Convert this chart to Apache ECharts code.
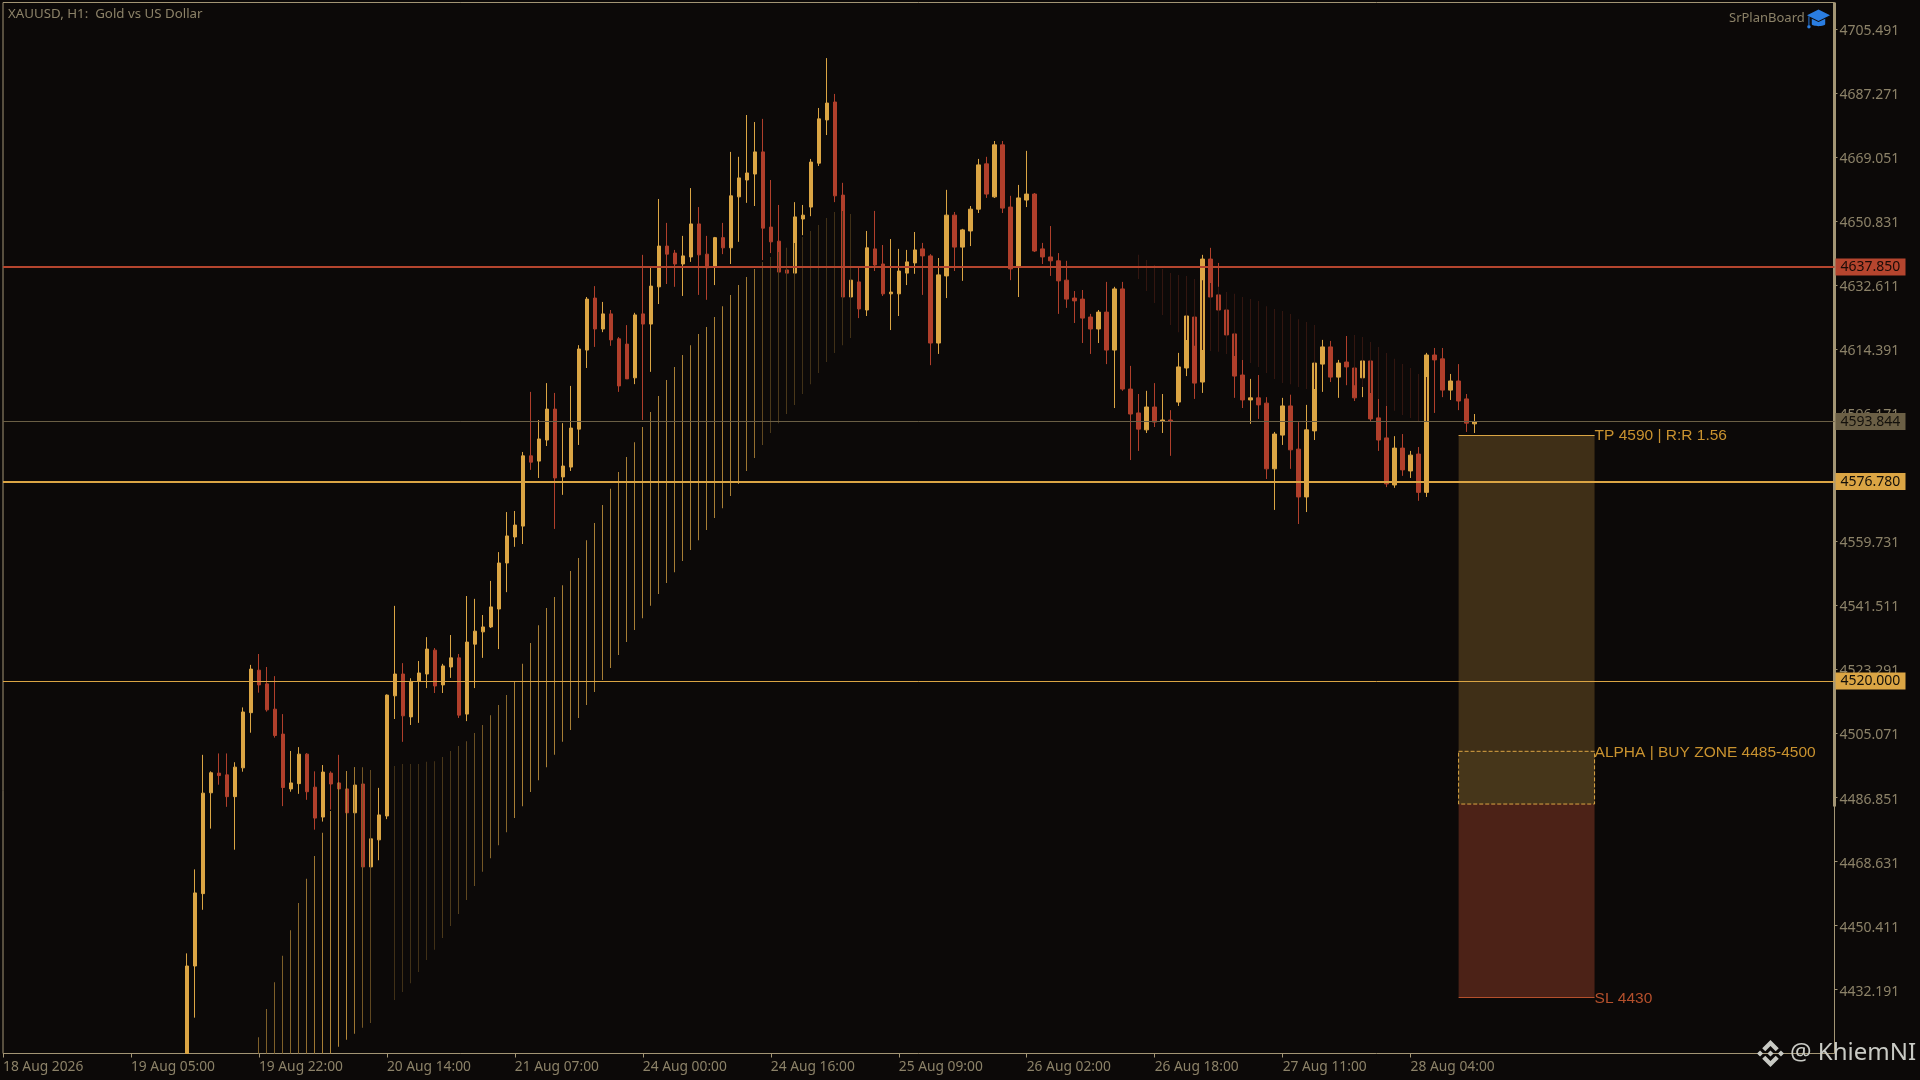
<!DOCTYPE html>
<html><head><meta charset="utf-8"><style>html,body{margin:0;padding:0;background:#0c0908}#c{width:1920px;height:1080px}</style>
<script src="https://cdn.jsdelivr.net/npm/echarts@6/dist/echarts.min.js"></script></head><body><div id="c"></div><script>
const xLabels=['18 Aug 2026','19 Aug 05:00','19 Aug 22:00','20 Aug 14:00','21 Aug 07:00','24 Aug 00:00','24 Aug 16:00','25 Aug 09:00','26 Aug 02:00','26 Aug 18:00','27 Aug 11:00','28 Aug 04:00'];
const yTicks=[4705.491,4687.271,4669.051,4650.831,4632.611,4614.391,4596.171,4577.951,4559.731,4541.511,4523.291,4505.071,4486.851,4468.631,4450.411,4432.191];
const firstCandle=23;
const opens=[4414,4438.9,4459.5,4488.2,4493.8,4493.3,4487.1,4495.3,4511.0,4523.1,4519.2,4512.0,4504.9,4489.3,4490.8,4499.2,4489.8,4481.3,4493.8,4491.0,4489.3,4482.5,4490.7,4467.1,4474.8,4481.6,4515.8,4522.0,4509.8,4520.0,4522.0,4528.8,4518.9,4524.0,4526.6,4510.6,4530.5,4534.0,4535.4,4540.5,4553.6,4561.0,4564.1,4584.1,4582.6,4588.6,4597.4,4578.1,4580.9,4591.7,4614.2,4629.0,4620.2,4624.5,4617.4,4615.9,4606.3,4624.5,4621.6,4632.2,4643.8,4641.8,4638.7,4640.7,4650.1,4641.5,4637.8,4646.2,4643.3,4657.8,4662.6,4664.3,4670.6,4649.2,4645.2,4637.0,4636.1,4651.5,4654.9,4667.4,4679.7,4684.8,4658.3,4629.3,4633.6,4625.6,4643.0,4638.7,4630.2,4630.2,4636.1,4639.0,4643.0,4641.0,4616.2,4635.3,4652.6,4643.5,4648.1,4654.3,4667.2,4657.8,4672.6,4654.9,4637.8,4656.9,4658.6,4643.0,4640.7,4639.6,4634.1,4629.0,4628.7,4623.6,4620.2,4625.0,4614.2,4631.6,4603.1,4596.3,4591.5,4598.0,4594.0,4594.3,4599.4,4609.1,4623.6,4605.1,4640.1,4629.9,4625.6,4618.8,4607.1,4600.0,4600.6,4599.1,4580.4,4590.0,4598.3,4586.0,4572.4,4591.2,4610.2,4615.1,4606.5,4610.8,4609.1,4606.3,4611.1,4594.9,4589.2,4575.8,4586.3,4579.8,4584.6,4573.7,4612.8,4611.7,4602.8,4605.4,4600.3,4593.2];
const closes=[4438.9,4459.7,4488.1,4493.9,4493.1,4487.1,4495.5,4511.2,4523.4,4518.9,4511.8,4504.5,4489.7,4491.0,4499.2,4488.5,4481.0,4494.1,4490.7,4489.3,4482.5,4490.4,4467.1,4475.1,4481.9,4516.0,4522.0,4510.1,4519.9,4522.3,4529.1,4518.6,4524.3,4526.6,4510.3,4531.1,4534.2,4535.4,4541.1,4553.6,4561.3,4564.4,4584.1,4582.3,4588.9,4597.4,4577.8,4581.2,4592.0,4614.5,4628.7,4620.2,4624.5,4617.1,4604.0,4606.0,4624.2,4621.6,4632.4,4643.8,4641.5,4638.7,4641.0,4650.1,4641.3,4637.6,4646.2,4643.3,4658.1,4663.2,4664.6,4670.6,4648.9,4645.0,4636.4,4636.1,4652.1,4652.6,4667.7,4680.0,4684.5,4658.1,4629.3,4634.1,4625.9,4643.3,4638.4,4630.2,4630.7,4636.7,4639.3,4642.7,4641.0,4616.2,4635.6,4652.6,4643.5,4648.4,4654.3,4666.9,4658.6,4672.6,4654.6,4637.3,4657.5,4658.6,4642.4,4640.7,4639.6,4633.9,4628.7,4628.2,4623.3,4620.2,4625.0,4614.2,4631.6,4603.1,4596.0,4591.7,4598.0,4593.7,4594.3,4594.0,4609.4,4623.9,4604.8,4640.1,4629.3,4625.6,4618.5,4606.8,4600.0,4600.6,4598.6,4580.4,4590.3,4598.3,4585.8,4572.4,4591.5,4610.5,4615.1,4606.5,4610.5,4609.4,4600.6,4611.1,4594.6,4588.6,4576.1,4586.3,4580.1,4584.3,4573.7,4612.8,4611.4,4602.8,4605.4,4599.7,4593.4,4593.8];
const lows=[4414,4424.2,4454.9,4478.0,4490.5,4484.2,4472.0,4494.2,4505.3,4516.7,4511.3,4503.9,4484.4,4488.5,4487.9,4486.2,4477.7,4480.0,4483.4,4489.0,4481.9,4481.9,4467.1,4467.1,4469.0,4480.7,4509.2,4502.7,4507.5,4508.1,4518.0,4516.6,4516.6,4520.9,4509.5,4508.6,4518.0,4526.6,4535.1,4529.1,4545.3,4558.2,4559.0,4580.1,4577.8,4586.9,4563.3,4573.0,4579.8,4587.2,4609.1,4615.1,4619.3,4615.4,4602.3,4606.0,4604.5,4594.3,4608.0,4627.3,4633.0,4632.2,4629.6,4639.3,4629.9,4628.5,4632.7,4641.5,4638.7,4645.0,4656.1,4655.2,4639.8,4641.8,4636.4,4636.1,4636.1,4646.9,4652.3,4666.6,4675.4,4656.3,4629.3,4629.3,4623.3,4623.9,4636.7,4629.6,4619.9,4623.9,4632.7,4635.9,4629.9,4609.9,4613.1,4629.0,4636.7,4633.9,4643.8,4653.2,4657.5,4657.5,4653.2,4634.1,4629.3,4654.9,4642.1,4638.7,4635.3,4624.5,4626.2,4621.9,4616.2,4613.1,4616.2,4610.2,4597.7,4602.6,4582.9,4585.5,4590.6,4592.3,4590.6,4584.1,4598.3,4606.8,4600.3,4602.0,4629.0,4625.3,4618.5,4600.6,4597.7,4593.2,4594.6,4577.5,4568.7,4587.2,4580.4,4564.7,4568.1,4588.6,4602.3,4605.1,4600.6,4604.2,4599.7,4600.8,4594.0,4585.5,4575.2,4575.0,4578.4,4577.8,4571.3,4572.4,4596.3,4600.8,4600.0,4597.1,4590.9,4590.6];
const highs=[4442.5,4466.4,4499.0,4494.3,4499.4,4499.4,4496.9,4512.5,4524.6,4527.7,4524.0,4521.4,4510.6,4500.1,4501.2,4499.5,4494.3,4496.1,4494.3,4499.0,4494.3,4495.4,4490.7,4475.1,4489.6,4516.2,4541.4,4525.1,4520.8,4525.7,4532.5,4529.4,4524.9,4533.1,4527.7,4544.2,4543.4,4538.8,4548.5,4556.7,4568.1,4568.4,4585.2,4602.3,4594.3,4604.8,4602.0,4593.4,4604.0,4615.6,4629.3,4632.4,4627.9,4625.6,4617.9,4621.3,4624.8,4641.3,4637.6,4657.2,4650.4,4642.7,4646.7,4660.3,4654.9,4646.7,4646.4,4650.4,4670.6,4669.2,4681.1,4679.1,4680.0,4662.6,4655.5,4637.0,4656.3,4655.5,4668.6,4683.1,4697.3,4687.1,4661.8,4634.1,4637.8,4648.1,4653.8,4644.1,4645.8,4643.0,4642.7,4647.8,4644.7,4641.5,4640.4,4659.8,4653.5,4648.7,4655.2,4668.6,4669.2,4673.7,4673.7,4658.1,4661.2,4670.9,4658.9,4644.7,4649.5,4641.8,4639.6,4631.0,4631.3,4624.5,4625.6,4633.6,4632.2,4633.6,4609.7,4601.7,4602.6,4604.8,4601.7,4597.1,4613.4,4623.9,4623.6,4641.3,4643.3,4639.0,4625.6,4618.8,4611.4,4606.0,4607.1,4600.8,4590.9,4600.6,4601.5,4593.7,4598.6,4610.5,4617.1,4616.8,4611.4,4618.2,4609.1,4611.1,4611.1,4600.3,4598.3,4589.7,4590.3,4585.5,4586.6,4613.4,4614.8,4614.8,4607.4,4610.2,4601.7,4596.0];
const firstGoldGhost=32;
const goldGhostTop=[4418.6,4426.7,4434.3,4441.8,4449.1,4456.8,4463.7,4470.2,4476.8,4483.0,4491.3,4494.4,4495.5,4495.5,4494.7,null,null,4495.8,4496.4,4496.4,4496.4,4497.0,4497.2,4498.4,4500.1,4501.5,4502.9,4505.2,4507.5,4510.3,4513.2,4516.0,4520.0,4524.9,4530.8,4535.9,4540.8,4543.9,4547.3,4551.3,4555.0,4560.1,4565.0,4570.1,4574.7,4579.5,4583.8,4588.0,4592.3,4596.6,4601.1,4605.7,4609.4,4612.8,4615.6,4618.8,4620.8,4623.6,4626.7,4629.9,4632.7,4635.0,4637.3,4639.3,4640.7,4642.1,4643.3,4644.7,4646.4,4648.1,4649.8,4651.8,4653.5,4653.8,4652.9];
const goldGhostBottom=[4400,4400,4400,4400,4400,4400,4400,4400,4400,4400,4415.9,4417.9,4419.6,4421.3,4422.7,null,null,4429.2,4431.5,4434.0,4437.2,4440.6,4443.5,4446.9,4450.3,4453.7,4457.7,4461.7,4465.7,4469.6,4473.3,4477.0,4481.0,4484.4,4488.4,4491.8,4495.5,4499.0,4502.7,4506.1,4509.5,4513.2,4516.9,4520.3,4523.7,4527.4,4531.1,4534.5,4537.9,4541.4,4544.8,4547.9,4551.0,4554.2,4557.3,4560.1,4563.0,4566.4,4569.2,4572.7,4576.1,4579.8,4583.5,4587.2,4590.6,4593.4,4596.0,4598.6,4601.7,4604.5,4607.7,4610.8,4613.4,4615.6,4617.6];
const goldGhostShade=[.55,.55,.55,.55,.6,.6,.65,.7,.75,.8,.8,.8,.7,.5,.4,0,0,.25,.25,.25,.25,.25,.25,.3,.3,.35,.4,.45,.5,.6,.6,.6,.75,.75,.75,.75,.75,.75,.75,.75,.75,.75,.75,.75,.75,.75,.75,.75,.75,.75,.75,.75,.75,.75,.75,.75,.75,.75,.75,.75,.75,.7,.65,.4,.3,.3,.3,.3,.25,.25,.25,.25,.25,.25,.25];
const firstRedGhost=142;
const redGhostTop=[4641.3,4639.8,4638.4,4637.3,4636.1,4635.6,4635.3,4634.4,4634.1,4633.3,4632.2,4630.7,4630.2,4629.3,4628.7,4628.2,4626.7,4625.9,4625.3,4624.5,4623.0,4622.2,4621.3,null,null,null,null,4618.5,4617.9,4616.5,4615.1,4613.4,4611.7,4610.2,4609.1,4607.4,4606.5];
const redGhostBottom=[4634.4,4631.0,4627.6,4624.2,4621.3,4619.3,4617.1,4615.4,4614.2,4613.9,4613.7,4613.1,4612.5,4611.4,4610.5,4609.4,4607.7,4606.0,4604.8,4604.5,4603.7,4603.1,4603.1,null,null,null,null,4604.2,4603.7,4602.0,4600.3,4598.3,4596.9,4595.7,4594.9,4593.7,4594.0];
const levels=[{v:4637.85,c:'#b5452e',w:2,text:'#1a0b07'},{v:4593.844,c:'#6b5f45',w:1,text:'#14110c'},{v:4576.78,c:'#dba544',w:2,text:'#14100a'},{v:4520,c:'#dba544',w:1,text:'#14100a'}];
const GOLD='#dba544',RED='#b03f2b',BG='#0c0908',TAN='#8c8268',AXIS='#a39574';
const tradeStart=182,tradeEnd=199,tp=4590,zoneTop=4500,zoneBottom=4485,sl=4430;
const axisBoldFrom=4484.3,axisBoldTo=4713.12;

function mix(hex,f){const a=parseInt(hex.slice(1),16),b=parseInt(BG.slice(1),16);const ch=s=>Math.round(((b>>s)&255)*(1-f)+((a>>s)&255)*f);return `rgb(${ch(16)},${ch(8)},${ch(0)})`;}
const total=230;
const cats=[];for(let i=0;i<total;i++){const l=i%16===0?xLabels[i/16]:undefined;cats.push(l||'');}
const candleData=cats.map((_,i)=>{const j=i-firstCandle;return j>=0&&j<opens.length?[opens[j],closes[j],lows[j],highs[j]]:'-';});
const ghost=[];
goldGhostTop.forEach((t,j)=>{if(t!=null)ghost.push([firstGoldGhost+j,goldGhostBottom[j],t,mix(GOLD,goldGhostShade[j])]);});
redGhostTop.forEach((t,j)=>{if(t!=null)ghost.push([firstRedGhost+j,redGhostBottom[j],t,mix(RED,.24)]);});

const endLabel=(text,color)=>({show:true,position:'end',distance:0,formatter:text,color,fontFamily:'Liberation Sans',fontSize:15.5,align:'left',verticalAlign:'top',lineHeight:2});
const levelLines=levels.map(l=>({yAxis:l.v,lineStyle:{color:l.c,width:l.w,type:'solid'},
 label:{show:true,position:'end',distance:1,formatter:l.v.toFixed(3),backgroundColor:l.c,color:l.text,fontFamily:'Noto Sans',fontSize:14,padding:[3,5,0,5],lineHeight:14,width:60,height:14,align:'left',verticalAlign:'middle'}}));
const tradeLines=[
 [{coord:[tradeStart,tp],lineStyle:{color:GOLD,width:1,type:'solid'},label:endLabel('TP 4590 | R:R 1.56','#c9922f')},{coord:[tradeEnd,tp]}],
 [{coord:[tradeStart,zoneTop],lineStyle:{color:'rgba(0,0,0,0)',width:1,type:'solid'},label:endLabel('ALPHA | BUY ZONE 4485-4500','#c9922f')},{coord:[tradeEnd,zoneTop]}],
 [{coord:[tradeStart,sl],lineStyle:{color:'#b5502c',width:1,type:'solid'},label:endLabel('SL 4430','#b5502c')},{coord:[tradeEnd,sl]}]
];
const capPath='M12 3 L24 9 L12 15 L0 9 Z M5 12.5 V18 C5 21 19 21 19 18 V12.5 L12 16 Z M1.5 10 V19 H2.5 V10.5 Z M2 19 a1.8 1.8 0 1 0 0.01 0 Z';
const binancePath='M16.624 13.9202l2.7175 2.7154-7.353 7.353-7.353-7.352 2.7175-2.7164 4.6355 4.6595 4.6356-4.6595zm4.6366-4.6366L24 12l-2.7154 2.7164L18.5682 12l2.6924-2.7164zm-9.272.001l2.7163 2.6914-2.7164 2.7174v-.001L9.2721 12l2.7164-2.7154zm-9.2722-.001L5.4088 12l-2.6914 2.6924L0 12l2.7164-2.7164zM11.9885.0115l7.353 7.329-2.7174 2.7154-4.6356-4.6356-4.6355 4.6595-2.7174-2.7154 7.353-7.353z';
const chart=echarts.init(document.getElementById('c'),null,{renderer:'canvas'});
chart.setOption({
 animation:false,backgroundColor:BG,
 title:[{text:'XAUUSD, H1:  Gold vs US Dollar',left:8,top:7.5,padding:0,textStyle:{color:TAN,fontFamily:'Noto Sans',fontSize:13.3,fontWeight:'normal'}},
        {text:'SrPlanBoard',left:1729,top:12,padding:0,textStyle:{color:TAN,fontFamily:'Noto Sans',fontSize:13,fontWeight:'normal'}}],
 grid:{left:2.5,top:2.5,width:1832,height:1051,show:true,borderColor:AXIS,borderWidth:1,backgroundColor:'transparent',containLabel:false},
 xAxis:{type:'category',data:cats,boundaryGap:false,axisLine:{show:false},
  axisTick:{show:true,length:4,lineStyle:{color:AXIS},interval:(i,v)=>v!==''},
  axisLabel:{interval:(i,v)=>v!=='',color:TAN,fontFamily:'Noto Sans',fontSize:13.8,align:'left',margin:7,showMinLabel:true,hideOverlap:false},splitLine:{show:false}},
 yAxis:{type:'value',position:'right',min:4414.0,max:4713.12,splitLine:{show:false},axisLine:{show:false},
  axisTick:{show:true,length:3,lineStyle:{color:AXIS},customValues:yTicks},
  axisLabel:{color:TAN,fontFamily:'Noto Sans',fontSize:14,margin:5,verticalAlign:'top',lineHeight:4,customValues:yTicks,formatter:v=>v.toFixed(3)}},
 series:[
  {type:'candlestick',data:candleData,barWidth:4,clip:true,z:2,
   itemStyle:{color:GOLD,color0:RED,borderColor:GOLD,borderColor0:RED,borderWidth:1},
   markArea:{silent:true,z:1,data:[
    [{coord:[tradeStart,tp],itemStyle:{color:'#3f2f17'}},{coord:[tradeEnd,zoneBottom]}],
    [{coord:[tradeStart,zoneBottom],itemStyle:{color:'#4c2217'}},{coord:[tradeEnd,sl]}],
    [{coord:[tradeStart,zoneTop],itemStyle:{color:'#46361a',borderColor:GOLD,borderWidth:1,borderType:'dashed'}},{coord:[tradeEnd,zoneBottom]}]
   ]},
   markLine:{silent:true,symbol:'none',animation:false,data:levelLines.concat(tradeLines)}},
  {type:'custom',z:3,clip:true,silent:true,encode:{x:0,y:[1,2]},data:ghost,
   renderItem:(p,api)=>{const a=api.coord([api.value(0),api.value(1)]),b=api.coord([api.value(0),api.value(2)]);
    return {type:'rect',shape:{x:Math.floor(a[0]),y:b[1],width:1,height:a[1]-b[1]},style:{fill:api.value(3)}};}},
  {type:'custom',z:4,clip:false,silent:true,encode:{x:0,y:[1,2]},data:[[total-1,axisBoldFrom,axisBoldTo]],
   renderItem:(p,api)=>{const a=api.coord([api.value(0),api.value(1)]),b=api.coord([api.value(0),api.value(2)]);
    return {type:'rect',shape:{x:Math.floor(a[0])-1,y:b[1],width:3,height:a[1]-b[1]},style:{fill:AXIS}};}},
  {type:'custom',coordinateSystem:'none',z:20,silent:true,data:[0],
   renderItem:()=>({type:'group',children:[
    {type:'path',shape:{pathData:capPath,x:1807,y:9,width:23,height:20,layout:'center'},style:{fill:'#2a7de1'}},
    {type:'path',shape:{pathData:binancePath,x:1757,y:1040,width:27,height:27,layout:'center'},style:{fill:'#c9cac4'}}
   ]})}
 ],
 graphic:[
  {type:'text',silent:true,z:20,style:{text:'@ KhiemNI',x:1790,y:1053,fill:'#c9cac4',font:'24px "Noto Sans"',verticalAlign:'middle',align:'left'}}
 ]
});
</script></body></html>
